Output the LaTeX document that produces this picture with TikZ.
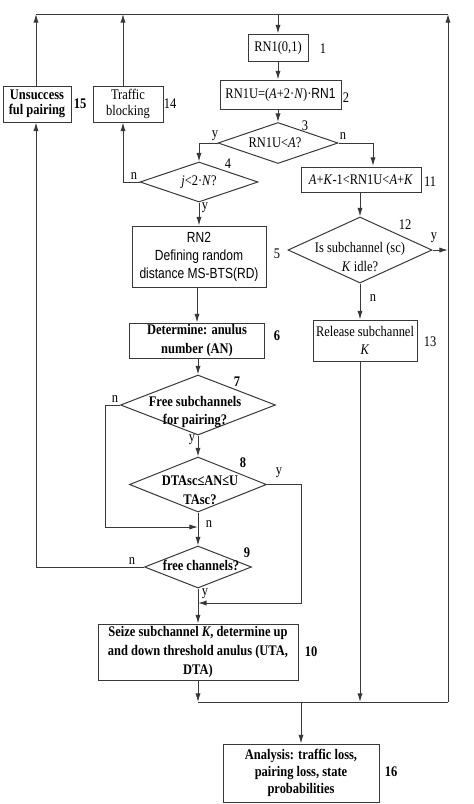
\documentclass[tikz,border=0pt]{standalone}
\usepackage{fontspec}
\setmainfont[FakeStretch=0.85]{Liberation Serif}
\setsansfont[FakeStretch=0.82]{Liberation Sans}
\usetikzlibrary{arrows.meta,shapes.geometric}
\begin{document}
\begin{tikzpicture}[x=0.75pt,y=-0.75pt,
  font=\fontsize{11}{14}\selectfont,
  line width=0.75pt,
  lc/.style={draw=black!78},
  arr/.style={lc,-{Latex[length=6.5pt,width=3.9pt]}},
  box/.style 2 args={draw=black!78, rectangle, inner sep=0pt, align=center,
     minimum width=#1*0.75pt, minimum height=#2*0.75pt},
  dia/.style 2 args={draw=black!78, diamond, inner sep=0pt,
     minimum width=#1*0.75pt, minimum height=#2*0.75pt},
  txt/.style={inner sep=0pt, align=center},
  bf/.style={font=\fontsize{11}{14}\selectfont\bfseries},
  lab/.style={inner sep=0pt}
]
\fill[white] (0,0) rectangle (474,804);
\useasboundingbox (0,0) rectangle (474,804);

% coordinates
\coordinate (TL) at (36,14);
\coordinate (TR) at (448,14);
\coordinate (T14) at (123,14);
\coordinate (R11) at (373,166);
\coordinate (BR) at (448,702);
\coordinate (BL) at (198,702);
\coordinate (BM) at (301,702);
\coordinate (L7) at (105,527);
\coordinate (J1) at (198,527);
\coordinate (R8) at (301,603);
\coordinate (J2) at (198,603);

% boxes
\node[box={60}{27}] (b1) at (278,47.5) {RN1(0,1)};
\node[box={121}{29}] (b2) at (280.5,94.5) {RN1U=(\textit{A}+2·\textit{N})·{\sffamily RN1}};
\node[box={70}{36},font=\fontsize{11}{12.5}\selectfont] (b14) at (128,104) {Traffic\\blocking};
\node[box={68}{36},font=\fontsize{11}{11.5}\selectfont\bfseries] (b15) at (37,104) {Unsuccess\\ful pairing};
\node[box={120}{25}] (b11) at (361,179.5) {\textit{A}+\textit{K}-1<RN1U<\textit{A}+\textit{K}};
\node[box={134}{61},font=\fontsize{11}{13.5}\selectfont\sffamily] (b5) at (199,256.5) {RN2\\Defining random\\distance MS-BTS(RD)};
\node[box={135}{35},bf] (b6) at (197,340.5) {Determine: anulus\\number (AN)};
\node[box={104}{41}] (b13) at (365,340.5) {Release subchannel\\\textit{K}};
\node[box={200}{56},bf] (b10) at (198,652) {Seize subchannel \textit{K}, determine up\\and down threshold anulus (UTA,\\DTA)};
\node[box={156}{58},font=\fontsize{11}{13}\selectfont\bfseries] (b16) at (301,773) {Analysis: traffic loss,\\pairing loss, state\\probabilities};

% diamonds
\node[dia={120}{41}] (d3) at (278,143) {};
\node[txt] (t3) at (275,143) {RN1U<\textit{A}?};
\node[dia={118}{40}] (d4) at (199,182) {};
\node[txt] (t4) at (199,182) {\textit{j}<2·\textit{N}?};
\node[dia={144}{66}] (d12) at (360,250) {};
\node[txt] (t12) at (360,257) {Is subchannel (sc)\\\textit{K} idle?};
\node[dia={155}{60}] (d7) at (198,405) {};
\node[txt,bf] (t7) at (195,412) {Free subchannels\\for pairing?};
\node[dia={137}{55}] (d8) at (198,484.5) {};
\node[txt,bf] (t8) at (200,490) {DTAsc≤AN≤U\\TAsc?};
\node[dia={107}{42}] (d9) at (198,567) {};
\node[txt,bf] (t9) at (201,565) {free channels?};

% connectors
\draw[lc] (TL) -- (TR);
\draw[arr] (b15.north -| TL) -- (TL);
\draw[arr] (b14.north -| T14) -- (T14);
\draw[arr] (BR) -- (TR);
\draw[arr] (b1 |- TL) -- (b1.north);
\draw[arr] (b1.south) -- (b2.north -| b1);
\draw[arr] (b2.south -| d3) -- (d3.north);
\draw[arr] (d3.west) -- (d3.west -| d4) -- (d4.north);
\draw[arr] (d3.east) -- (d3.east -| R11) -- (R11);
\draw[arr] (d4.west) -- (d4.west -| T14) -- (b14.south -| T14);
\draw[arr] (d4.south) -- (b5.north -| d4);
\draw[arr] (b5.south -| b6) -- (b6.north);
\draw[arr] (b6.south -| d7) -- (d7.north);
\draw[arr] (d7.south) -- (d8.north);
\draw[arr] (d8.south) -- (d9.north);
\draw[arr] (d7.west) -- (d7.west -| L7) -- (L7) -- (J1);
\draw[arr] (d8.east) -- (d8.east -| R8) -- (R8) -- (J2);
\draw[arr] (d9.west) -- (d9.west -| TL) -- (b15.south -| TL);
\draw[arr] (d9.south) -- (b10.north);
\draw[arr] (b10.south) -- (BL);
\draw[lc] (BL) -- (BR);
\draw[arr] (BM) -- (b16.north);
\draw[arr] (b11.south -| d12) -- (d12.north);
\draw[arr] (d12.east) -- (d12.east -| TR);
\draw[arr] (d12.south) -- (b13.north -| d12);
\draw[arr] (b13.south -| d12) -- (d12 |- BR);

% y / n labels
\node[lab] (y3) at (215,136) {y};
\node[lab] (n3) at (343,136) {n};
\node[lab] (n4) at (134,176) {n};
\node[lab] (y4) at (205,208) {y};
\node[lab] (y12) at (434,238) {y};
\node[lab] (n12) at (373,298) {n};
\node[lab] (n7) at (115,399) {n};
\node[lab] (y7) at (192,440) {y};
\node[lab] (y8) at (279,473) {y};
\node[lab] (n8) at (209,524) {n};
\node[lab] (n9) at (132,561) {n};
\node[lab] (y9) at (205,594) {y};

% step numbers
\node[lab] (s1) at (323,49) {1};
\node[lab] (s2) at (346,98) {2};
\node[lab] (s3) at (305,126) {3};
\node[lab] (s4) at (228,164) {4};
\node[lab] (s11) at (430,182) {11};
\node[lab] (s14) at (170,104) {14};
\node[lab,bf] (s15) at (80,104) {15};
\node[lab] (s5) at (277,254) {5};
\node[lab] (s12) at (405,225) {12};
\node[lab,bf] (s6) at (277,336) {6};
\node[lab] (s13) at (430,342) {13};
\node[lab,bf] (s7) at (237,382) {7};
\node[lab,bf] (s8) at (243,463) {8};
\node[lab,bf] (s9) at (247,553) {9};
\node[lab,bf] (s10) at (311,652) {10};
\node[lab,bf] (s16) at (391,772) {16};
\end{tikzpicture}
\end{document}
